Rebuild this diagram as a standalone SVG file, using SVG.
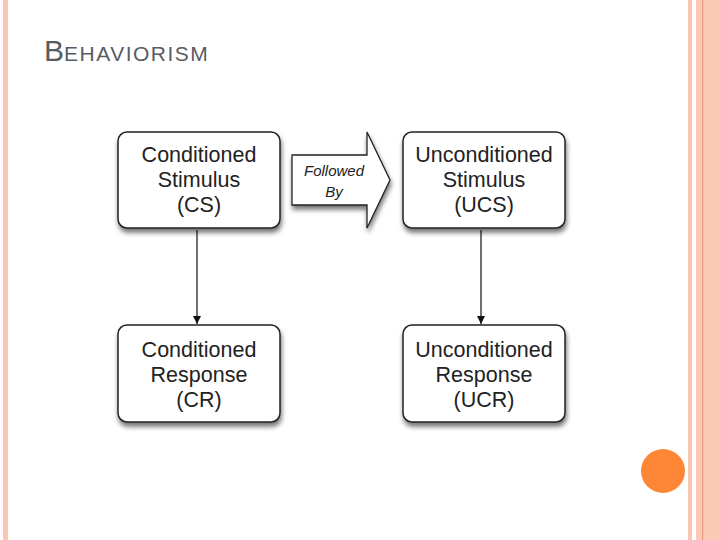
<svg xmlns="http://www.w3.org/2000/svg" width="720" height="540" viewBox="0 0 720 540">
<defs>
<filter id="sh" x="-10%" y="-10%" width="125%" height="130%">
<feGaussianBlur in="SourceAlpha" stdDeviation="2.5"/>
<feOffset dx="1" dy="4" result="b"/>
<feComponentTransfer><feFuncA type="linear" slope="0.55"/></feComponentTransfer>
<feMerge><feMergeNode/><feMergeNode in="SourceGraphic"/></feMerge>
</filter>
<marker id="ah" viewBox="0 0 10 10" refX="10" refY="5" markerWidth="8" markerHeight="8" markerUnits="userSpaceOnUse" orient="auto">
<path d="M0,0 L10,5 L0,10 z" fill="#111"/>
</marker>
</defs>
<style>
.box{fill:#fff;stroke:#222;stroke-width:1.5;filter:url(#sh)}
.lbl{font-family:"Liberation Sans",Arial,sans-serif;font-size:21.5px;fill:#222;text-anchor:middle}
.it{font-family:"Liberation Sans",Arial,sans-serif;font-size:15px;font-style:italic;fill:#222;text-anchor:middle}
.conn{stroke:#111;stroke-width:1.2;fill:none;marker-end:url(#ah)}
</style>
<rect width="720" height="540" fill="#fff"/>
<rect x="3" y="0" width="5" height="540" fill="#f9c7b4"/>
<rect x="688" y="0" width="4" height="540" fill="#f9c7b4"/>
<rect x="696" y="0" width="24" height="540" fill="#fbc9b6"/>
<rect x="702" y="0" width="1.2" height="540" fill="#e89a7e"/>
<circle cx="663" cy="471" r="22" fill="#fd8637"/>
<text x="44" y="61" font-family="'Liberation Sans',Arial,sans-serif" fill="#575c63"><tspan font-size="30">B</tspan><tspan font-size="21" letter-spacing="1.5">EHAVIORISM</tspan></text>
<g id="conns">
<line class="conn" x1="197" y1="230" x2="197" y2="324"/>
<line class="conn" x1="481" y1="230" x2="481" y2="324"/>
</g>
<g id="followed">
<path d="M292,155 L367,155 L367,132 L390,180 L367,228 L367,205 L292,205 Z" fill="#fff" stroke="#222" stroke-width="1.3" filter="url(#sh)"/>
<text class="it" x="334" y="176">Followed</text>
<text class="it" x="334" y="197">By</text>
</g>
<g id="cs">
<rect class="box" x="118" y="132" width="162" height="96" rx="9"/>
<text class="lbl" x="199" y="162">Conditioned</text>
<text class="lbl" x="199" y="187">Stimulus</text>
<text class="lbl" x="199" y="212">(CS)</text>
</g>
<g id="ucs">
<rect class="box" x="403" y="132" width="162" height="96" rx="9"/>
<text class="lbl" x="484" y="162">Unconditioned</text>
<text class="lbl" x="484" y="187">Stimulus</text>
<text class="lbl" x="484" y="212">(UCS)</text>
</g>
<g id="cr">
<rect class="box" x="118" y="325" width="162" height="97" rx="9"/>
<text class="lbl" x="199" y="357">Conditioned</text>
<text class="lbl" x="199" y="382">Response</text>
<text class="lbl" x="199" y="407">(CR)</text>
</g>
<g id="ucr">
<rect class="box" x="403" y="325" width="162" height="97" rx="9"/>
<text class="lbl" x="484" y="357">Unconditioned</text>
<text class="lbl" x="484" y="382">Response</text>
<text class="lbl" x="484" y="407">(UCR)</text>
</g>
</svg>
